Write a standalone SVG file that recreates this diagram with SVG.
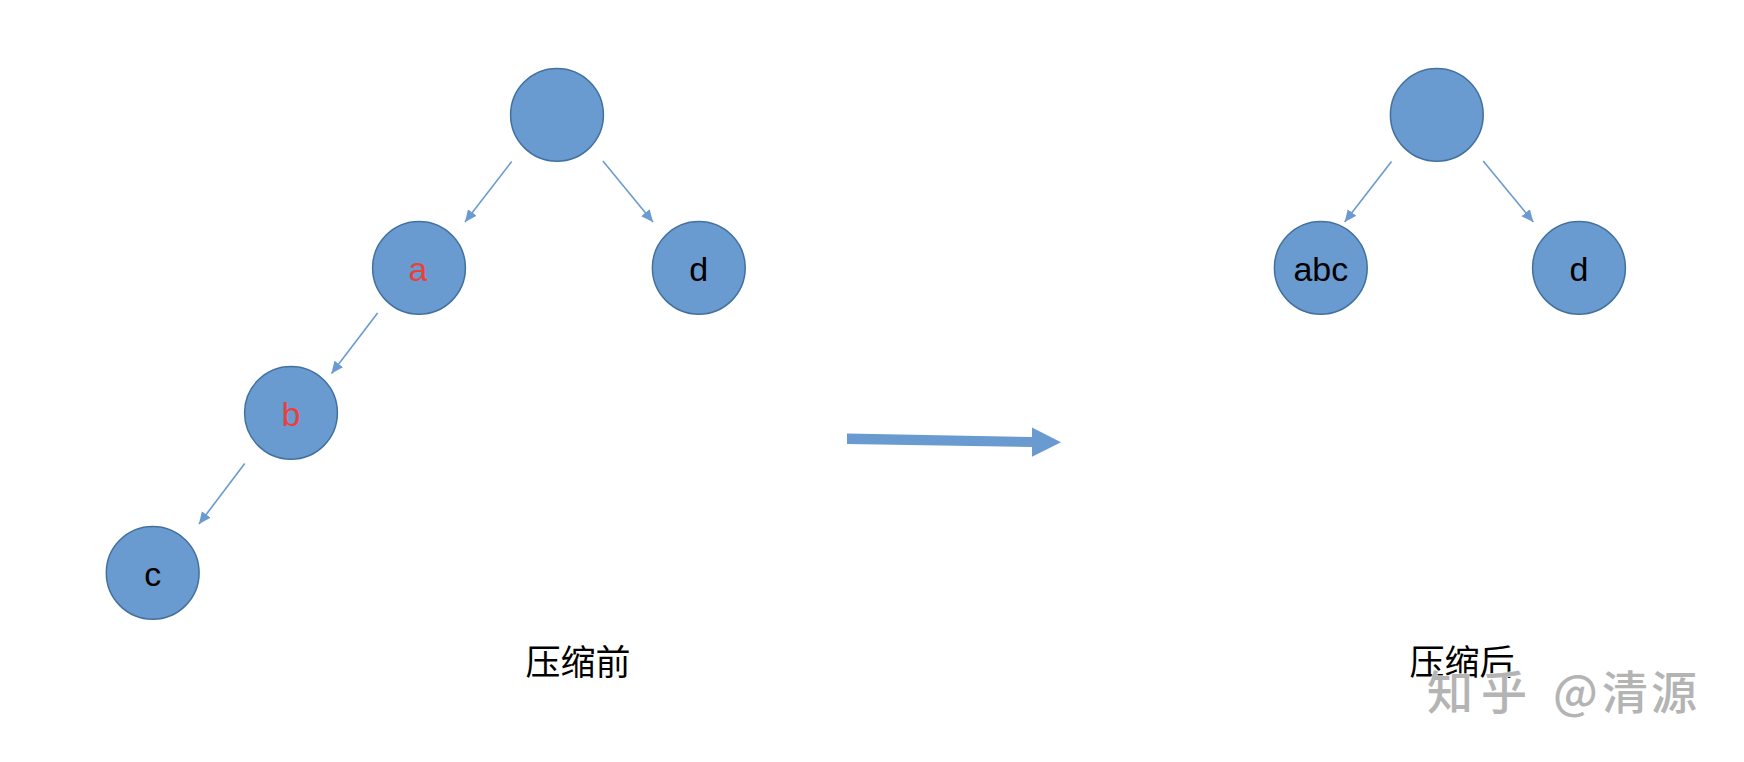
<svg xmlns="http://www.w3.org/2000/svg" width="1744" height="762" viewBox="0 0 1744 762">
<defs>
<marker id="ah" markerUnits="userSpaceOnUse" markerWidth="12" markerHeight="12" refX="11" refY="5" orient="auto" viewBox="0 0 11 10">
<path d="M0,0 L11,5 L0,10 z" fill="#6a9bd0"/>
</marker>
<style>
.node{fill:#6a9bd0;stroke:#41719c;stroke-width:1.5}
.lbl{font-family:"Liberation Sans",Arial,sans-serif;font-size:34px;text-anchor:middle}
.red{fill:#e8413c}
.blk{fill:#000}
.conn{stroke:#6a9bd0;stroke-width:1.6;fill:none;marker-end:url(#ah)}
.cap{font-family:"Noto Sans CJK SC","Noto Sans",sans-serif;font-size:35px;fill:#000;text-anchor:middle}
.wm{font-family:"Noto Sans CJK SC","Noto Sans",sans-serif;font-size:46px;font-weight:500;fill:#b4b4b4;stroke:#ffffff;stroke-width:1;paint-order:stroke}
</style>
</defs>
<rect width="1744" height="762" fill="#fff"/>
<g id="connectors">
<line class="conn" x1="511.7" y1="161.5" x2="465" y2="222"/>
<line class="conn" x1="602.9" y1="161" x2="653" y2="222"/>
<line class="conn" x1="377.6" y1="313" x2="331.5" y2="373.5"/>
<line class="conn" x1="244.7" y1="463.5" x2="199" y2="524"/>
<line class="conn" x1="1391.5" y1="161.5" x2="1344.7" y2="222"/>
<line class="conn" x1="1483.2" y1="161" x2="1533.3" y2="222"/>
<polygon id="transform-arrow" points="847,433.5 1032,437 1032,427.5 1061,442.3 1032,456.7 1032,447 847,444" fill="#6a9bd0"/>
</g>
<g id="root-before"><circle class="node" cx="557" cy="114.8" r="46.4"/></g>
<g id="node-a"><circle class="node" cx="419" cy="267.8" r="46.4"/><text class="lbl red" x="418" y="281">a</text></g>
<g id="node-d-before"><circle class="node" cx="698.8" cy="267.8" r="46.4"/><text class="lbl blk" x="698.8" y="281">d</text></g>
<g id="node-b"><circle class="node" cx="291" cy="412.8" r="46.4"/><text class="lbl red" x="291" y="426">b</text></g>
<g id="node-c"><circle class="node" cx="152.7" cy="572.8" r="46.4"/><text class="lbl blk" x="152.7" y="586">c</text></g>
<g id="root-after"><circle class="node" cx="1436.8" cy="114.8" r="46.4"/></g>
<g id="node-abc"><circle class="node" cx="1320.8" cy="267.8" r="46.4"/><text class="lbl blk" x="1320.8" y="281">abc</text></g>
<g id="node-d-after"><circle class="node" cx="1579" cy="267.8" r="46.4"/><text class="lbl blk" x="1579" y="281">d</text></g>
<g id="captions">
<text class="cap" x="578" y="675">压缩前</text>
<text class="cap" x="1462" y="675">压缩后</text>
</g>
<g id="watermark">
<text class="wm" y="709"><tspan x="1427">知</tspan><tspan x="1481">乎</tspan><tspan x="1553">@</tspan><tspan x="1602">清</tspan><tspan x="1651">源</tspan></text>
</g>
</svg>
